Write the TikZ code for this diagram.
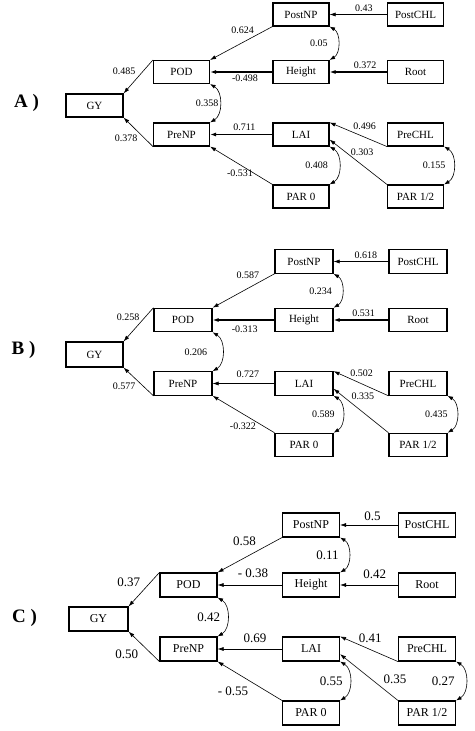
\documentclass[tikz,border=0pt]{standalone}
\usepackage{fontspec}
\setmainfont{Liberation Serif}
\usetikzlibrary{arrows.meta}

\tikzset{
  var/.style={draw, line width=1.1pt, minimum width=56pt, minimum height=23pt, inner sep=0pt, font=\fontsize{11}{13}\selectfont},
  effect/.style={-{Latex[length=6pt,width=4pt]}, line width=0.6pt},
  strong/.style={line width=1.4pt},
  corr/.style={{Latex[length=5.5pt,width=4pt]}-{Latex[length=5.5pt,width=4pt]}, line width=0.6pt, bend left=60},
  coef/.style={inner sep=1pt, font=\fontsize{10}{12}\selectfont},
  tag/.style={font=\fontsize{19}{21}\selectfont\bfseries}
}

\begin{document}
\begin{tikzpicture}[x=1pt, y=-1pt]
\useasboundingbox (0,0) rectangle (474,731);

% A)
\begin{scope}[name prefix=a-]
\node[tag] (tag) at (26.5,103) {A )};
\node[var, minimum width=57pt] (GY) at (94.5,105.5) {GY};
\node[var] (POD) at (181.5,72) {POD};
\node[var] (PreNP) at (181.5,134.5) {PreNP};
\node[var] (PostNP) at (301,14.5) {PostNP};
\node[var] (Height) at (301,72) {Height};
\node[var] (LAI) at (301,134.5) {LAI};
\node[var] (PAR0) at (301,196.5) {PAR 0};
\node[var] (PostCHL) at (415.5,14.5) {PostCHL};
\node[var] (Root) at (415.5,72) {Root};
\node[var] (PreCHL) at (415.5,134.5) {PreCHL};
\node[var] (PAR12) at (415.5,196.5) {PAR 1/2};
\draw[effect] (PostCHL) -- node[coef, pos=0.4, above=2pt] {0.43} (PostNP);
\draw[effect, strong] (Root) -- node[coef, pos=0.38, above=2pt] {0.372} (Height);
\draw[effect, strong] (Height) -- node[coef, pos=0.44, below=1.5pt] {-0.498} (POD);
\draw[effect, strong] (LAI) -- node[coef, pos=0.45, above=2pt] {0.711} (PreNP);
\draw[effect] (PostNP.south west) -- node[coef, pos=0.48, above=8pt] {0.624} (POD.north east);
\draw[effect] (POD.north west) -- node[coef, pos=0.35, left=6pt] {0.485} (GY.north east);
\draw[effect] (PreNP.south west) -- node[coef, pos=0.28, left=6pt] {0.378} (GY.south east);
\draw[effect] (PAR0.north west) -- node[coef, pos=0.52, below=4pt] {-0.531} (PreNP.south east);
\draw[effect] (PreCHL.south west) -- node[coef, pos=0.39, above=6pt] {0.496} (LAI.north east);
\draw[effect] (PAR12.north west) -- node[coef, pos=0.72, right=4pt] {0.303} (LAI.-10);
\draw[corr] (PostNP.south east) to node[coef, left=9pt] {0.05} (Height.north east);
\draw[corr] (POD.south east) to node[coef, left=0pt] {0.358} (PreNP.north east);
\draw[corr] (LAI.south east) to node[coef, left=10pt] {0.408} (PAR0.north east);
\draw[corr] (PreCHL.south east) to node[coef, left=7pt] {0.155} (PAR12.north east);
\end{scope}

% B)
\begin{scope}[name prefix=b-, var/.append style={minimum width=58pt, minimum height=23.5pt}]
\node[tag] (tag) at (23.5,349.5) {B )};
\node[var, minimum width=57pt, minimum height=25pt] (GY) at (94.5,354.5) {GY};
\node[var] (POD) at (183,320) {POD};
\node[var] (PreNP) at (183,383.5) {PreNP};
\node[var] (PostNP) at (304,261.5) {PostNP};
\node[var] (Height) at (304,320) {Height};
\node[var] (LAI) at (304,383.5) {LAI};
\node[var] (PAR0) at (304,445) {PAR 0};
\node[var] (PostCHL) at (418,261.5) {PostCHL};
\node[var] (Root) at (418,320) {Root};
\node[var] (PreCHL) at (418,383.5) {PreCHL};
\node[var] (PAR12) at (418,445) {PAR 1/2};
\draw[effect] (PostCHL) -- node[coef, pos=0.41, above=2pt] {0.618} (PostNP);
\draw[effect, strong] (Root) -- node[coef, pos=0.45, above=2pt] {0.531} (Height);
\draw[effect, strong] (Height) -- node[coef, pos=0.48, below=4pt] {-0.313} (POD);
\draw[effect] (LAI) -- node[coef, pos=0.43, above=5pt] {0.727} (PreNP);
\draw[effect] (PostNP.south west) -- node[coef, pos=0.43, above=8pt] {0.587} (POD.north east);
\draw[effect] (POD.north west) -- node[coef, pos=0.29, left=4pt] {0.258} (GY.north east);
\draw[effect] (PreNP.south west) -- node[coef, pos=0.34, left=6.5pt] {0.577} (GY.south east);
\draw[effect] (PAR0.north west) -- node[coef, pos=0.51, below=8pt] {-0.322} (PreNP.south east);
\draw[effect] (PreCHL.south west) -- node[coef, pos=0.49, above=6pt] {0.502} (LAI.north east);
\draw[effect] (PAR12.north west) -- node[coef, pos=0.82, right=7pt] {0.335} (LAI.-10);
\draw[corr] (PostNP.south east) to node[coef, left=9pt] {0.234} (Height.north east);
\draw[corr] (POD.south east) to node[coef, left=14pt] {0.206} (PreNP.north east);
\draw[corr] (LAI.south east) to node[coef, left=7pt] {0.589} (PAR0.north east);
\draw[corr] (PreCHL.south east) to node[coef, left=8pt] {0.435} (PAR12.north east);
\end{scope}

% C)
\begin{scope}[name prefix=c-, var/.append style={minimum width=57pt, minimum height=24pt, font=\fontsize{12}{14}\selectfont},
  coef/.append style={font=\fontsize{13}{15}\selectfont}]
\node[tag] (tag) at (24.5,617.5) {C )};
\node[var, minimum width=59pt] (GY) at (98.5,619) {GY};
\node[var] (POD) at (188.5,585) {POD};
\node[var] (PreNP) at (188.5,649) {PreNP};
\node[var] (PostNP) at (311,525) {PostNP};
\node[var] (Height) at (311,585) {Height};
\node[var] (LAI) at (311,649) {LAI};
\node[var] (PAR0) at (311,713) {PAR 0};
\node[var] (PostCHL) at (427,525) {PostCHL};
\node[var] (Root) at (427,585) {Root};
\node[var] (PreCHL) at (427,649) {PreCHL};
\node[var] (PAR12) at (427,713) {PAR 1/2};
\draw[effect] (PostCHL) -- node[coef, pos=0.44, above=3pt] {0.5} (PostNP);
\draw[effect] (Root) -- node[coef, pos=0.4, above=5pt] {0.42} (Height);
\draw[effect] (Height) -- node[coef, pos=0.45, above=6pt] {- 0.38} (POD);
\draw[effect] (LAI) -- node[coef, pos=0.42, above=5pt] {0.69} (PreNP);
\draw[effect] (PostNP.south west) -- node[coef, pos=0.58, above=11pt] {0.58} (POD.north east);
\draw[effect] (POD.north west) -- node[coef, pos=0.29, left=9pt] {0.37} (GY.north east);
\draw[effect] (PreNP.south west) -- node[coef, pos=0.23, left=13pt] {0.50} (GY.south east);
\draw[effect] (PAR0.north west) -- node[coef, pos=0.76, below=15pt] {- 0.55} (PreNP.south east);
\draw[effect] (PreCHL.south west) -- node[coef, pos=0.48, above=6pt] {0.41} (LAI.north east);
\draw[effect] (PAR12.north west) -- node[coef, pos=0.46, right=11pt] {0.35} (LAI.-10);
\draw[corr] (PostNP.south east) to node[coef, left=9pt] {0.11} (Height.north east);
\draw[corr] (POD.south east) to node[coef, left=6pt] {0.42} (PreNP.north east);
\draw[corr] (LAI.south east) to node[coef, left=6pt] {0.55} (PAR0.north east);
\draw[corr] (PreCHL.south east) to node[coef, left=10pt] {0.27} (PAR12.north east);
\end{scope}
\end{tikzpicture}
\end{document}
